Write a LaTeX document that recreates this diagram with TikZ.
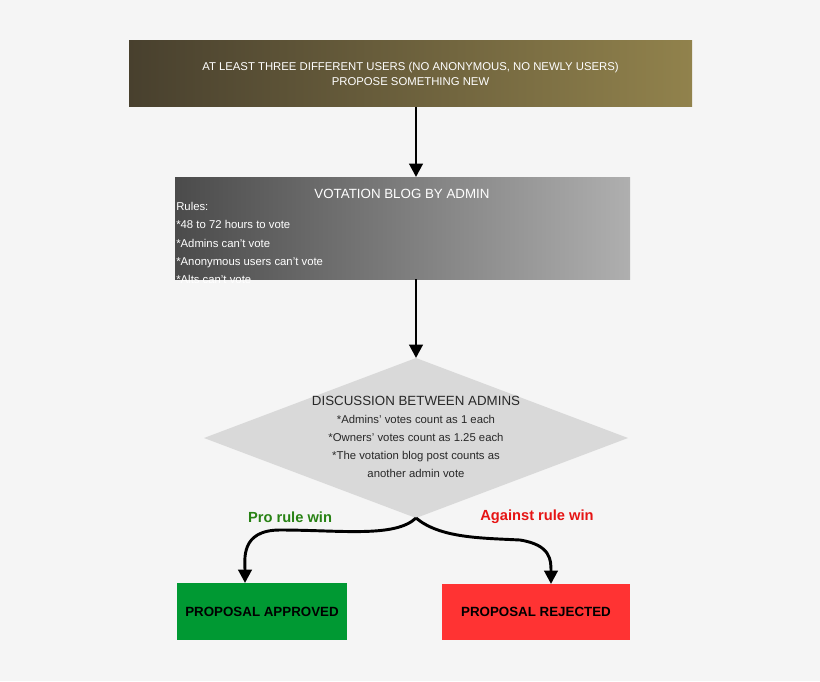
\documentclass[tikz,border=0pt]{standalone}
\usepackage{fontspec}
\setmainfont{Liberation Sans}
\usetikzlibrary{arrows.meta,shapes.geometric}
\begin{document}
\begin{tikzpicture}[x=0.75pt,y=-0.75pt,
  conn/.style={line width=2.2pt,-{Triangle[length=10pt,width=10pt]}},
  lbl/.style={font=\bfseries\fontsize{11}{13}\selectfont},
  res/.style={font=\bfseries\fontsize{10}{12}\selectfont,text=black}]
\fill[fill={rgb,255:red,245;green,245;blue,245}] (0,0) rectangle (820,681);
\useasboundingbox (0,0) rectangle (820,681);
\shade[left color={rgb,255:red,72;green,64;blue,46}, right color={rgb,255:red,145;green,130;blue,76}] (129,41) rectangle (692,107);
\node[align=center,text=white,font=\fontsize{8.5}{11}\selectfont] (top) at (410.5,74) {AT LEAST THREE DIFFERENT USERS (NO ANONYMOUS, NO NEWLY USERS)\\PROPOSE SOMETHING NEW};
\coordinate (topb) at (416,107);
\shade[shading=axis,shading angle=-65, left color={rgb,255:red,75;green,75;blue,75}, right color={rgb,255:red,175;green,175;blue,175}] (175,177) rectangle (630,279);
\coordinate (blogt) at (416,177);
\coordinate (blogb) at (416,279);
\node[text=white,font=\fontsize{10}{12}\selectfont] (blogh) at (402,194) {VOTATION BLOG BY ADMIN};
\node[anchor=north west,align=left,text=white,font=\fontsize{8.5}{13.7}\selectfont,inner sep=0pt] (rules) at (176,202) {Rules:\\*48 to 72 hours to vote\\*Admins can't vote\\*Anonymous users can't vote\\*Alts can't vote};
\fill[fill={rgb,255:red,217;green,217;blue,217}] (416,358) -- (628,438) -- (416,518) -- (204,438) -- cycle;
\coordinate (dt) at (416,358);
\coordinate (db) at (416,518);
\node[align=center,text={rgb,255:red,40;green,40;blue,40},font=\fontsize{8.5}{13.5}\selectfont] (disc) at (416,437) {{\fontsize{10}{12}\selectfont DISCUSSION BETWEEN ADMINS}\\*Admins' votes count as 1 each\\*Owners' votes count as 1.25 each\\*The votation blog post counts as\\another admin vote};
\fill[fill={rgb,255:red,0;green,153;blue,51}] (177,583) rectangle (347,640);
\node[res] (appr) at (262,611.5) {PROPOSAL APPROVED};
\fill[fill={rgb,255:red,255;green,51;blue,51}] (442,584) rectangle (630,640);
\node[res] (rej) at (536,611.5) {PROPOSAL REJECTED};
\coordinate (apt) at (245,583);
\coordinate (rjt) at (551,584);
\draw[conn] (topb) -- (blogt);
\draw[conn] (blogb) -- (dt);
\draw[conn] (db) .. controls (395,538) and (340,530) .. (280,530) .. controls (240,530) and (245,560) .. (apt);
\draw[conn] (db) .. controls (440,538) and (480,538) .. (520,540) .. controls (551,545) and (551,560) .. (rjt);
\node[lbl,text={rgb,255:red,40;green,130;blue,20}] (pro) at (290,517) {Pro rule win};
\node[lbl,text={rgb,255:red,230;green,20;blue,20}] (ag) at (537,517) {Against rule win};
\end{tikzpicture}
\end{document}
